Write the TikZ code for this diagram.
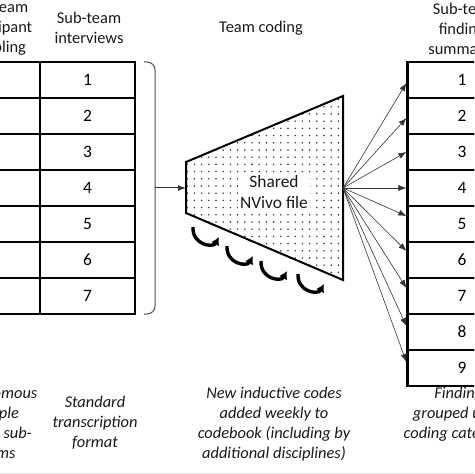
\documentclass[tikz,border=0pt]{standalone}
\usepackage{fontspec}
\setmainfont{Carlito}
\usetikzlibrary{arrows.meta,patterns.meta}

\tikzset{
  cell/.style = {draw, line width = 0.6pt, inner sep = 0pt, minimum height = 18pt,
                 font = \fontsize{8.7}{10}\selectfont},
  label/.style = {align = center, text = black!90, font = \fontsize{8.2}{10}\selectfont},
  note/.style = {label, font = \fontsize{8.2}{10}\selectfont\itshape},
  fan/.style = {-{Latex[length = 4pt, width = 3pt]}, line width = 0.3pt, black!80},
  curl/.style = {-{Latex[length = 4pt, width = 4.5pt]}, line width = 1.7pt},
}

\begin{document}
\begin{tikzpicture}[x = 0.5pt, y = -0.5pt]
  \useasboundingbox (0, 0) rectangle (474, 474);
  \clip (0, 0) rectangle (474, 474);

  % headers
  \node [label] (hdrsample) at (-4, 28) {Sub-team\\participant\\sampling};
  \node [label] (hdrinterv) at (89, 28) {Sub-team\\interviews};
  \node [label] (hdrcoding) at (261, 28) {Team coding};
  \node [label] (hdrsumm) at (465, 29) {Sub-team\\findings\\summaries};

  % left table
  \foreach \i in {1, ..., 7} {
    \node [cell, minimum width = 44pt] (s\i) at (-4, 44 + 36 * \i) {};
    \node [cell, minimum width = 47.5pt] (l\i) at (87.5, 44 + 36 * \i) {\i};
  }

  % right table
  \foreach \i in {1, ..., 9}
    \node [cell, minimum width = 54pt] (r\i) at (462, 44 + 36 * \i) {\i};
  \draw [line width = 1.1pt] (r1.north west) -- (r9.south west);

  % bracket into the coding file
  \draw [black!70, line width = 0.5pt, rounded corners = 4pt]
        (144, 62) -- (155, 62) -- (155, 314) -- (144, 314);
  \coordinate (brace) at (155, 188);
  \coordinate (inlet) at (186, 188);
  \coordinate (hub) at (343, 188);
  \draw [fan, line width = 0.5pt] (brace) -- (inlet);

  \draw [line width = 1pt, pattern = {Dots[distance = 3.6pt, radius = 0.45pt]}, pattern color = black!75]
        (186, 162) -- (343, 96) -- (343, 280) -- (186, 213) -- cycle;
  \node [label, fill = white, inner sep = 1pt, font = \fontsize{8.7}{10.5}\selectfont] (nvivo) at (274, 192) {Shared\\NVivo file};

  \foreach \x/\y in {193/227, 227/246, 261/261, 298/274}
    \draw [curl] (\x, \y) .. controls (\x - 1, \y + 18) and (\x + 20, \y + 21) .. (\x + 26, \y + 10);

  \foreach \i/\dy in {1/-1.5, 2/-1, 3/0, 4/0, 5/4, 6/4.5, 7/4, 8/3, 9/3}
    \draw [fan] (hub) -- ([xshift = -0.5pt, yshift = \dy pt] r\i.west);

  % notes under the columns
  \node [note] (notesample) at (-5, 423) {Autonomous\\sample\\within sub-\\teams};
  \node [note] (noteinterv) at (95, 423) {Standard\\transcription\\format};
  \node [note] (notecoding) at (274, 424) {New inductive codes\\added weekly to\\codebook (including by\\additional disciplines)};
  \node [note] (notesumm) at (462, 414) {Findings\\grouped under\\coding categories};

  \draw [black!12] (0, 473) -- (474, 473);
\end{tikzpicture}
\end{document}
